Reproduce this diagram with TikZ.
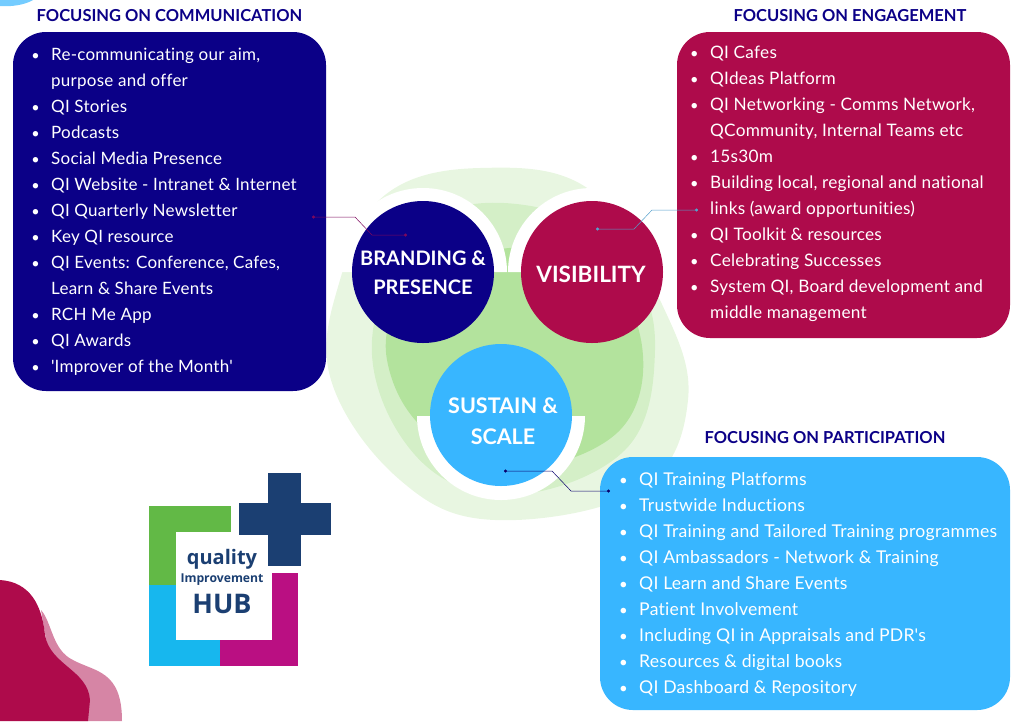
\documentclass[tikz,border=0pt]{standalone}
\usepackage{fontspec}
\setmainfont[Ligatures=NoCommon]{Lato}
\newfontfamily\spacedfont[Ligatures=NoCommon,LetterSpace=1.5]{Lato}
\newfontfamily\logofont{Open Sans}
\usepackage{tikz}
\usetikzlibrary{arrows.meta}

\definecolor{navyc}{HTML}{0B0087}
\definecolor{crimsonc}{HTML}{AE0B4B}
\definecolor{skyc}{HTML}{38B6FF}
\definecolor{leafc}{HTML}{8CD46A}
\definecolor{logonavy}{HTML}{1B3F72}
\definecolor{logogreen}{HTML}{62B946}
\definecolor{logoblue}{HTML}{17B7EE}
\definecolor{logopink}{HTML}{BA0F82}

\newcommand{\bul}{\leavevmode\llap{\scalebox{0.85}{\textbullet}\hspace{11.5pt}}}

\tikzset{
  panel/.style={rounded corners=33pt,inner sep=0pt},
  paneltext/.style={anchor=west,align=left,text=white,inner sep=0pt},
  paneltitle/.style={text=navyc,inner sep=0pt,font=\fontsize{16.5}{18}\selectfont\bfseries},
  hub/.style={circle,minimum size=142pt,inner sep=0pt},
  hublabel/.style={align=center,text=white,inner sep=0pt},
  blob/.style={fill=leafc},
  link/.style={line width=0.5pt,{Circle[length=3pt]}-{Circle[length=3pt]}},
  logotext/.style={text=logonavy,inner sep=0pt}
}

\begin{document}
\begin{tikzpicture}[x=1pt,y=-1pt]

\clip (0,0) rectangle (1024,721);

\fill[skyc!70] (33,0) .. controls (25,5) and (10,7) .. (0,6) -- (0,0) -- cycle;

\fill[blob,opacity=0.2] plot[smooth cycle,tension=0.65] coordinates {(385,195) (480,168) (590,190) (660,300) (688,400) (640,490) (495,520) (400,480) (331,380) (340,280)};
\fill[blob,opacity=0.22] plot[smooth cycle,tension=0.65] coordinates {(430,220) (550,210) (630,270) (655,350) (625,450) (510,495) (415,455) (372,340)};
\fill[blob,opacity=0.45] plot[smooth cycle,tension=0.65] coordinates {(440,260) (580,252) (640,335) (620,430) (510,470) (425,430) (387,360) (400,295)};

\fill[white] (339,272) arc[start angle=180,end angle=0,radius=84pt] -- cycle;
\fill[white] (508,272) arc[start angle=180,end angle=0,radius=84pt] -- cycle;
\fill[white] (417,416) arc[start angle=180,end angle=360,radius=84pt] -- cycle;

\node[hub,fill=navyc] (branding) at (423,272) {};
\node[hub,fill=crimsonc] (visibility) at (592,272) {};
\node[hub,fill=skyc] (sustain) at (501,415) {};

\node[hublabel,font=\fontsize{20}{29}\selectfont\bfseries] (brandinglabel) at (423,273) {BRANDING \&\\PRESENCE};
\node[hublabel,font=\fontsize{22.5}{30}\selectfont\bfseries] (visibilitylabel) at (591,274) {VISIBILITY};
\node[hublabel,font=\fontsize{21.5}{31}\selectfont\bfseries] (sustainlabel) at (503,421) {SUSTAIN \&\\SCALE};

\node[panel,fill=navyc,minimum width=313pt,minimum height=359pt] (communication) at (169.5,211.5) {};
\node[panel,fill=crimsonc,minimum width=333pt,minimum height=306pt] (engagement) at (843.5,185) {};
\node[panel,fill=skyc,minimum width=410pt,minimum height=253pt] (participation) at (805,583.5) {};

\node[paneltitle] (communicationtitle) at (169.5,16) {FOCUSING ON COMMUNICATION};
\node[paneltitle] (engagementtitle) at (850,16) {FOCUSING ON ENGAGEMENT};
\node[paneltitle] (participationtitle) at (825,438) {FOCUSING ON PARTICIPATION};

\node[paneltext,font=\spacedfont\fontsize{17}{26}\selectfont] (communicationlist) at (51,212) {\bul Re-communicating our aim,\\purpose and offer\\\bul QI Stories\\\bul Podcasts\\\bul Social Media Presence\\\bul QI Website - Intranet \& Internet\\\bul QI Quarterly Newsletter\\\bul Key QI resource\\\bul QI Events: Conference, Cafes,\\Learn \& Share Events\\\bul RCH Me App\\\bul QI Awards\\\bul \textquotesingle Improver of the Month\textquotesingle};

\node[paneltext,font=\spacedfont\fontsize{17.2}{26}\selectfont] (engagementlist) at (710,184) {\bul QI Cafes\\\bul QIdeas Platform\\\bul QI Networking - Comms Network,\\QCommunity, Internal Teams etc\\\bul 15s30m\\\bul Building local, regional and national\\links (award opportunities)\\\bul QI Toolkit \& resources\\\bul Celebrating Successes\\\bul System QI, Board development and\\middle management};

\node[paneltext,font=\spacedfont\fontsize{17.6}{26}\selectfont] (participationlist) at (639,585) {\bul QI Training Platforms\\\bul Trustwide Inductions\\\bul QI Training and Tailored Training programmes\\\bul QI Ambassadors - Network \& Training\\\bul QI Learn and Share Events\\\bul Patient Involvement\\\bul Including QI in Appraisals and PDR\textquotesingle s\\\bul Resources \& digital books\\\bul QI Dashboard \& Repository};

\coordinate (communicationdot) at (312,217);
\coordinate (brandingdot) at (407,235);
\coordinate (visibilitydot) at (596,229);
\coordinate (engagementdot) at (698,210);
\coordinate (sustaindot) at (504,471);
\coordinate (participationdot) at (610,491);

\draw[link,color=crimsonc!70!navyc] (communicationdot) -- (355,217) -- (372,235) -- (brandingdot);
\draw[link,color=skyc!60!gray] (visibilitydot) -- (634,229) -- (652,210) -- (engagementdot);
\draw[link,color=navyc!80!black] (sustaindot) -- (552,471) -- (571,491) -- (participationdot);

\fill[crimsonc!50!white] (41,610) .. controls (52,622) and (52,650) .. (73,660) .. controls (95,672) and (122,670) .. (122,721) -- (60,721) -- cycle;
\fill[crimsonc] (0,580) .. controls (30,582) and (42,605) .. (45,635) .. controls (50,665) and (88,670) .. (90,700) -- (88,721) -- (0,721) -- cycle;

\fill[logogreen] (149,506) rectangle (231,585);
\fill[logoblue] (149,585) rectangle (220,666);
\fill[logopink] (220,573) rectangle (298,666);
\fill[white] (176,532) rectangle (272,640);
\fill[logonavy] (268,473) rectangle (301,566);
\fill[logonavy] (239,503) rectangle (331,535);

\node[logotext,font=\logofont\fontsize{20}{24}\selectfont\bfseries] (qualitylabel) at (222,559) {quality};
\node[logotext,font=\logofont\fontsize{12.2}{15}\selectfont\bfseries] (improvementlabel) at (222,580) {Improvement};
\node[logotext,font=\logofont\fontsize{27}{34}\selectfont\bfseries] (hublabel) at (222,604) {HUB};

\end{tikzpicture}
\end{document}
